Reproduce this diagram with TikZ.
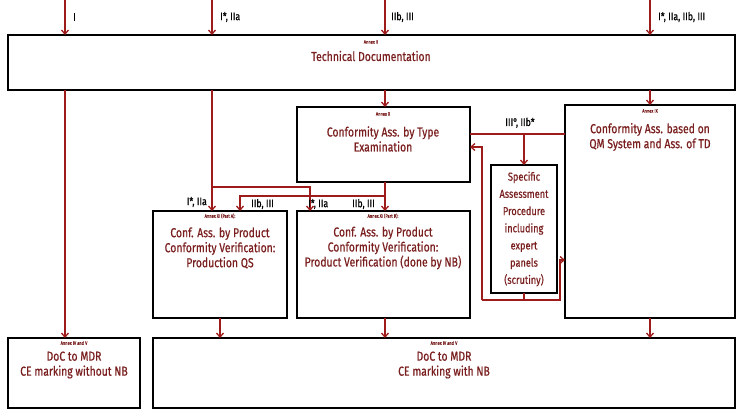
\documentclass[tikz,border=0pt]{standalone}
\usepackage{fontspec}
\setmainfont{Fira Sans}[FakeStretch=0.8,FakeBold=0.6]
\usetikzlibrary{arrows.meta}
\definecolor{dr}{HTML}{9E1B1B}
\definecolor{tr}{HTML}{7A1F1F}
\begin{document}
\begin{tikzpicture}[x=1pt,y=-1pt,
 box/.style={draw=black,line width=1.6pt},
 ln/.style={draw=dr,line width=1.3pt},
 ar/.style={ln,-{Straight Barb[length=4pt,width=7pt]}},
 tt/.style={text=tr,font=\fontsize{13}{15}\selectfont,align=center},
 sm/.style={text=tr,font=\fontsize{5}{6}\selectfont},
 lb/.style={font=\fontsize{11}{12}\selectfont,inner sep=1pt}]
\useasboundingbox (0,0) rectangle (740,412);
\draw[box] (8,35) rectangle (735,90);
\draw[box] (297,107) rectangle (470,182);
\draw[box] (491,165) rectangle (557,293);
\draw[box] (565,105) rectangle (735,318);
\draw[box] (153,211) rectangle (287,318);
\draw[box] (297,211) rectangle (470,318);
\draw[box] (8,338) rectangle (140,408);
\draw[box] (153,338) rectangle (735,408);
% texts
\node[sm] (a2) at (371,42) {Annex II};
\node[tt] (t1) at (371,56) {Technical Documentation};
\node[sm] (a10) at (383,114) {Annex X};
\node[tt] (t2) at (383,139) {Conformity Ass. by Type\\Examination};
\node[tt,font=\fontsize{11.5}{17.2}\selectfont] (t3) at (524,229) {Specific\\Assessment\\Procedure\\including\\expert\\panels\\(scrutiny)};
\node[sm] (a9) at (650,111) {Annex IX};
\node[tt] (t4) at (650,137) {Conformity Ass. based on\\QM System and Ass. of TD};
\node[sm] (axa) at (220,216) {Annex XI (Part A):};
\node[tt] (t5) at (220,248) {Conf. Ass. by Product\\Conformity Verification:\\Production QS};
\node[sm] (axb) at (383,216) {Annex XI (Part B):};
\node[tt] (t6) at (383,248) {Conf. Ass. by Product\\Conformity Verification:\\Product Verification (done by NB)};
\node[sm] (adl) at (74,343) {Annex IV and V};
\node[tt] (t7) at (74,365) {DoC to MDR\\CE marking without NB};
\node[sm] (adr) at (444,343) {Annex IV and V};
\node[tt] (t8) at (444,365) {DoC to MDR\\CE marking with NB};
% top arrows
\coordinate (s1) at (65,0); \coordinate (s2) at (212,0); \coordinate (s3) at (385,0); \coordinate (s4) at (650,0);
\draw[ar] (s1) -- (65,35); \node[lb,anchor=west] (l1) at (72,17) {I};
\draw[ar] (s2) -- (212,35); \node[lb,anchor=west] (l2) at (219,17) {I*, IIa};
\draw[ar] (s3) -- (385,35); \node[lb,anchor=west] (l3) at (390,17) {IIb, III};
\draw[ar] (s4) -- (650,35); \node[lb,anchor=west] (l4) at (657,17) {I*, IIa, IIb, III};
% inner
\draw[ar] (65,90) -- (65,338);
\draw[ar] (212,90) -- (212,211); \node[lb,anchor=east] at (208,202) {I*, IIa};
\draw[ar] (212,187) -- (310,187) -- (310,211); \node[lb,anchor=west] at (307,204) {I*, IIa};
\draw[ar] (385,90) -- (385,107);
\draw[ar] (385,182) -- (385,211); \node[lb,anchor=east] at (376,204) {IIb, III};
\draw[ar] (385,196) -- (240,196) -- (240,211); \node[lb,anchor=west] at (250,204) {IIb, III};
\draw[ar] (650,90) -- (650,105);
\draw[ln] (565,134) -- (470,134);
\draw[ar] (524,134) -- (524,165); \node[lb,anchor=south] at (520,129) {III°, IIb*};
\draw[ln] (524,293) -- (524,300);
\draw[ar] (482,300) -- (482,147) -- (470,147);
\draw[ar] (482,300) -- (560,300) -- (560,260) -- (565,260);
% bottom arrows
\draw[ar] (220,318) -- (220,338);
\draw[ar] (385,318) -- (385,338);
\draw[ar] (650,318) -- (650,338);
\end{tikzpicture}
\end{document}
